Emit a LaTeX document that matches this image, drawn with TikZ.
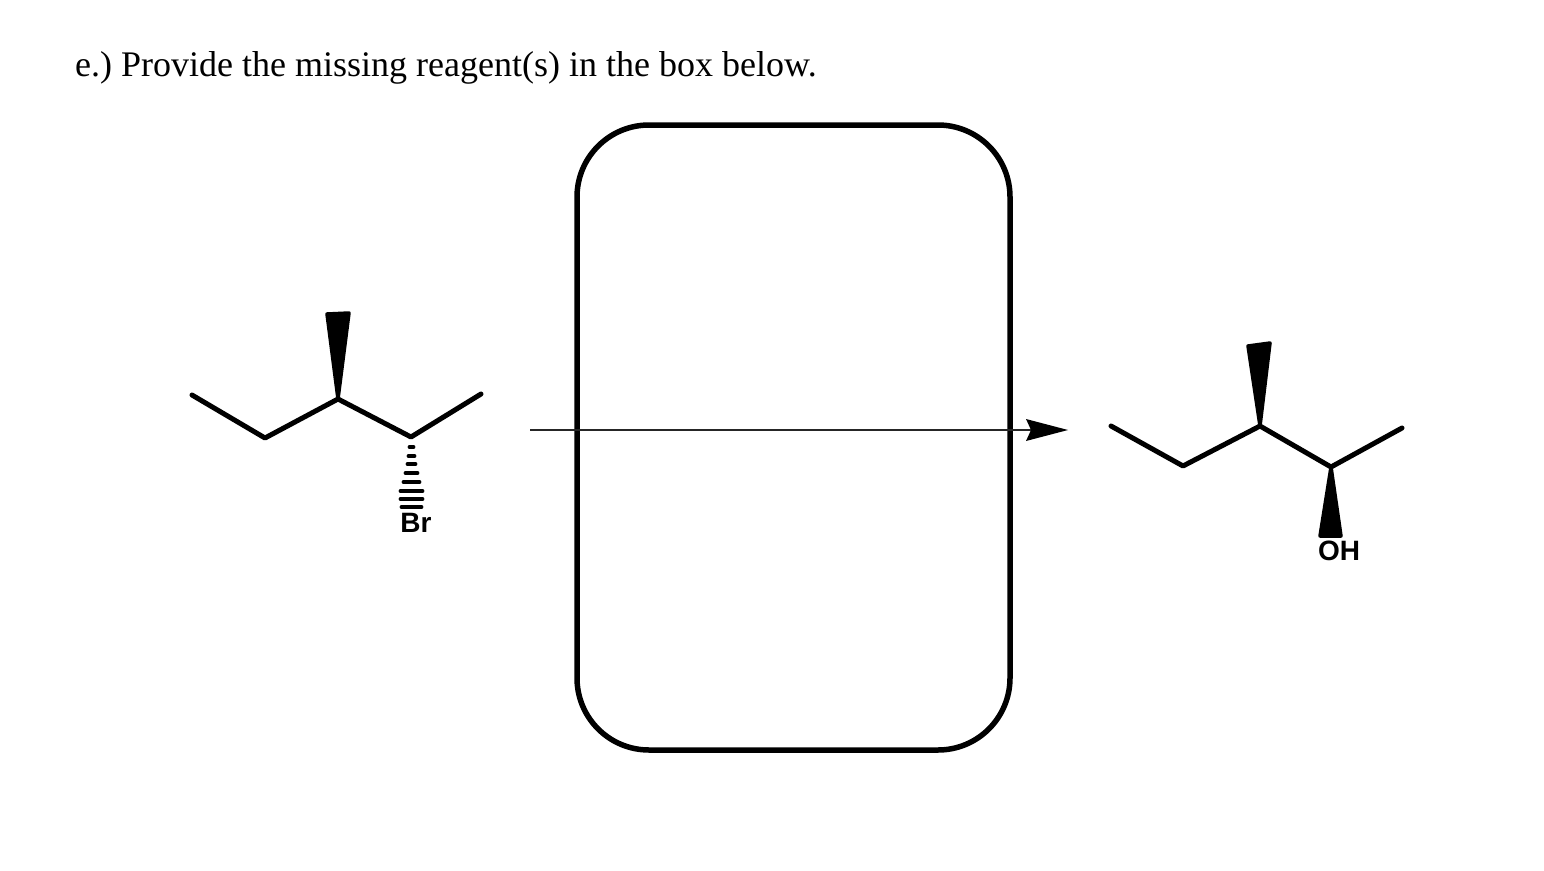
\documentclass[tikz,border=0pt]{standalone}
\usepackage{fontspec}
\setmainfont{Liberation Serif}
\newfontfamily\labelfont{Liberation Sans}
\begin{document}
\begin{tikzpicture}[x=1pt,y=-1pt,
  bond/.style={line width=5pt,line cap=round,line join=round,black},
  wedgebond/.style={fill=black,draw=black,line width=3.5pt,line join=round},
  hashbar/.style={line width=3.8pt,line cap=round,black},
  atomlabel/.style={font=\labelfont\bfseries\fontsize{28}{28}\selectfont,inner sep=0pt,text=black},
  reagentbox/.style={draw=black,line width=5.5pt,rounded corners=72pt,minimum width=433pt,minimum height=625pt,inner sep=0pt}]
\useasboundingbox (0,0) rectangle (1544,870);
\fill[white] (0,0) rectangle (1544,870);
\node[anchor=base west,inner sep=0pt,font=\fontsize{36}{40}\selectfont] (title) at (75,76) {e.)\hspace{-3pt} Provide the missing reagent(s) in the box below.};
\node[reagentbox] (box) at (793.5,437.5) {};
% left molecule
\coordinate (a1) at (192,395);
\coordinate (a2) at (265,438);
\coordinate (a3) at (338,399);
\coordinate (a4) at (411,437);
\coordinate (a5) at (481,394);
\draw[bond] (a1) -- (a2) -- (a3) -- (a4) -- (a5);
\draw[wedgebond] (a3) -- (327,314) -- (349,313) -- cycle;
\foreach \yy/\hw in {447/2,456/3,464/4,473/6,482/8,491/11,499/11,507/10}
  \draw[hashbar] (411.5-\hw,\yy) -- (411.5+\hw,\yy);
\node[atomlabel] (br) at (416,523) {Br};
% right molecule
\coordinate (b1) at (1111,426);
\coordinate (b2) at (1183,466);
\coordinate (b3) at (1260,426);
\coordinate (b4) at (1331,467);
\coordinate (b5) at (1402,428);
\draw[bond] (b1) -- (b2) -- (b3) -- (b4) -- (b5);
\draw[wedgebond] (b3) -- (1248,346) -- (1270,343) -- cycle;
\draw[wedgebond] (b4) -- (1320,536) -- (1341,536) -- cycle;
\node[atomlabel] (oh) at (1339,551) {OH};
% arrow
\coordinate (s) at (530,430);
\coordinate (e) at (1068,430);
\draw[line width=2pt,black!85] (s) -- (1032,430);
\fill[black] (e) -- (1026,419) -- (1031,430) -- (1026,441) -- cycle;
\end{tikzpicture}
\end{document}
